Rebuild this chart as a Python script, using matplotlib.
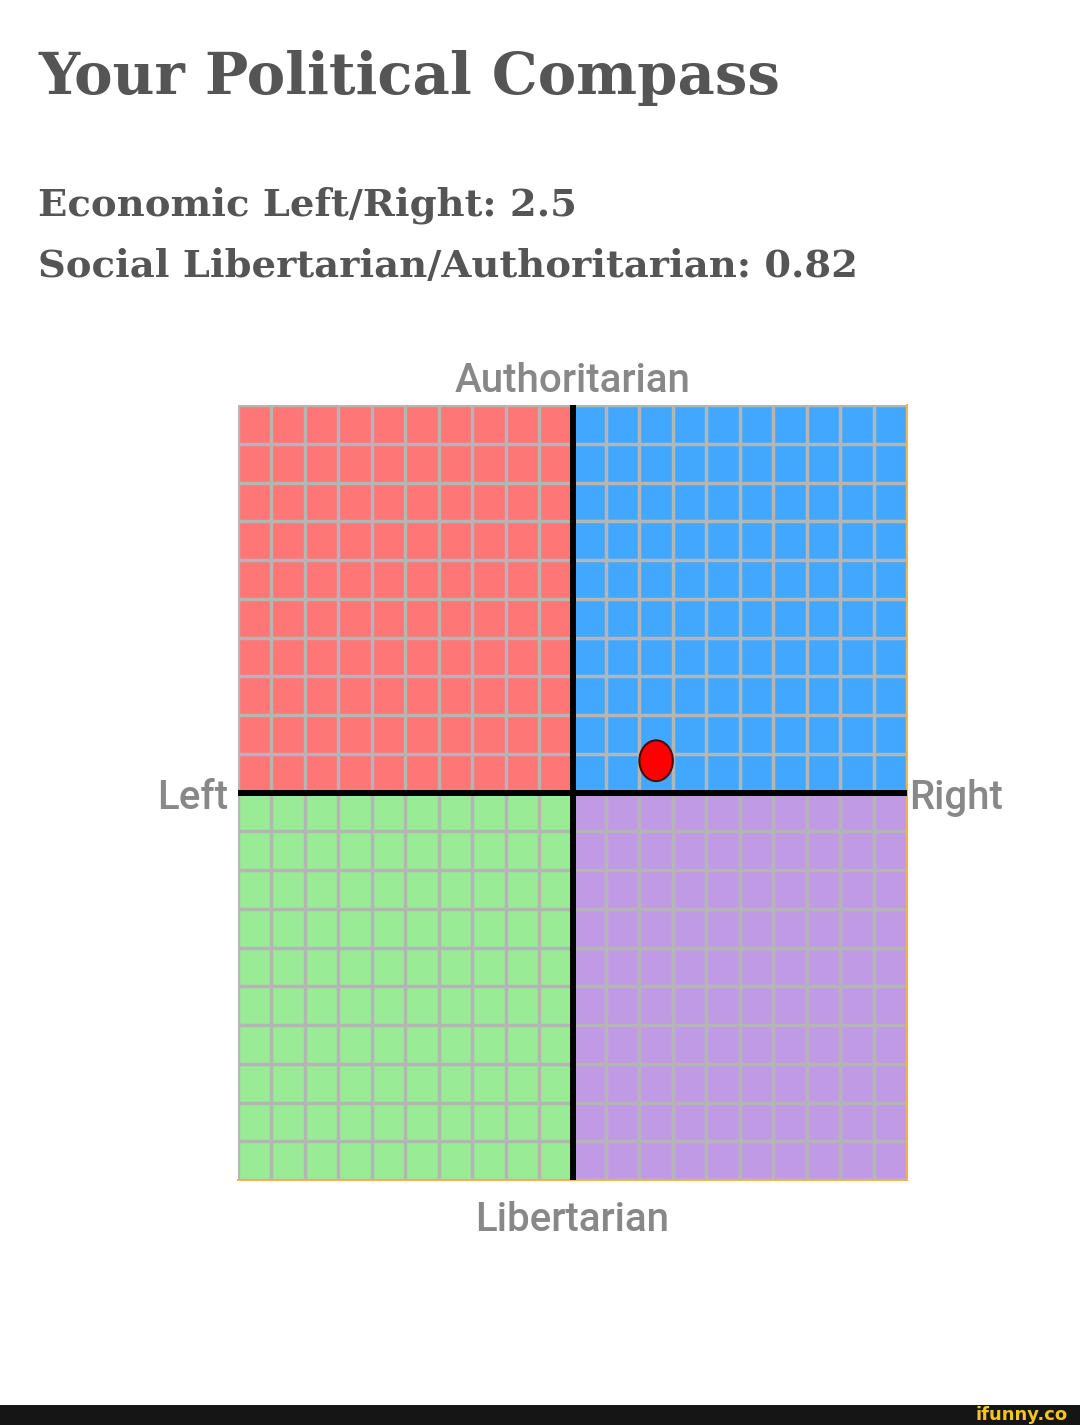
import matplotlib.pyplot as plt
from matplotlib.patches import Rectangle, Ellipse

# valores do resultado
economic = 2.5
social = 0.82

# quadrantes: (x0, y0, cor)
quad_names = ['Auth Left', 'Auth Right', 'Lib Left', 'Lib Right']
quad_x0 = [-10, 0, -10, 0]
quad_y0 = [0, 0, -10, -10]
quad_colors = ['#ff7676', '#42a7ff', '#9aeb95', '#c19ae6']

axis_labels = ['Authoritarian', 'Libertarian', 'Left', 'Right']
grid_ticks = list(range(-10, 11))

W, H = 1080, 1425
fig = plt.figure(figsize=(W / 100, H / 100), dpi=100)
fig.patch.set_facecolor('white')

ax = fig.add_axes([238 / W, 1 - 1180 / H, 669 / W, 775 / H])
ax.set_xlim(-10, 10)
ax.set_ylim(-10, 10)
ax.axis('off')

for x0, y0, c in zip(quad_x0, quad_y0, quad_colors):
    ax.add_patch(Rectangle((x0, y0), 10, 10, facecolor=c, edgecolor='none', zorder=1))

for t in grid_ticks:
    ax.axvline(t, color='#b5b5b5', lw=2.5, zorder=2)
    ax.axhline(t, color='#b5b5b5', lw=2.5, zorder=2)

# borda laranja na direita e embaixo
ax.plot([10, 10], [-10, 10], color='#f3b24a', lw=1.4, zorder=3, clip_on=False)
ax.plot([-10, 10], [-10, -10], color='#f3b24a', lw=1.4, zorder=3, clip_on=False)

ax.axvline(0, color='black', lw=4.3, zorder=4)
ax.axhline(0, color='black', lw=4.3, zorder=4)

ax.add_patch(Ellipse((economic, social), 1.0, 1.05, facecolor='#ff0000',
                     edgecolor='#4a0a0a', lw=1.5, zorder=5))

label_font = ['Roboto', 'DejaVu Sans']
lab = dict(color='#888888', fontsize=29, fontweight='medium', family=label_font)
ax.text(0, 10.12, axis_labels[0], ha='center', va='bottom', **lab)
ax.text(0, -10.55, axis_labels[1], ha='center', va='top', **lab)
ax.text(-10.3, -0.15, axis_labels[2], ha='right', va='center', **lab)
ax.text(10.05, -0.15, axis_labels[3], ha='left', va='center', **lab)

serif = ['DejaVu Serif']
fig.text(38 / W, 1 - 94 / H, 'Your Political Compass', fontsize=41.5,
         fontweight='bold', color='#555555', family=serif, va='baseline')
fig.text(38 / W, 1 - 215 / H, f'Economic Left/Right: {economic}', fontsize=27.7,
         fontweight='bold', color='#555555', family=serif, va='baseline')
fig.text(38 / W, 1 - 277 / H, f'Social Libertarian/Authoritarian: {social}', fontsize=27.7,
         fontweight='bold', color='#555555', family=serif, va='baseline')

# faixa do watermark
fig.patches.append(Rectangle((0, 0), 1, 20 / H, transform=fig.transFigure,
                             facecolor='#151515', edgecolor='none'))
fig.text(1068 / W, 10 / H, 'ifunny.co', fontsize=13, fontweight='bold',
         color='#f5c518', ha='right', va='center')

fig.savefig('out.png', dpi=100, facecolor='white')
